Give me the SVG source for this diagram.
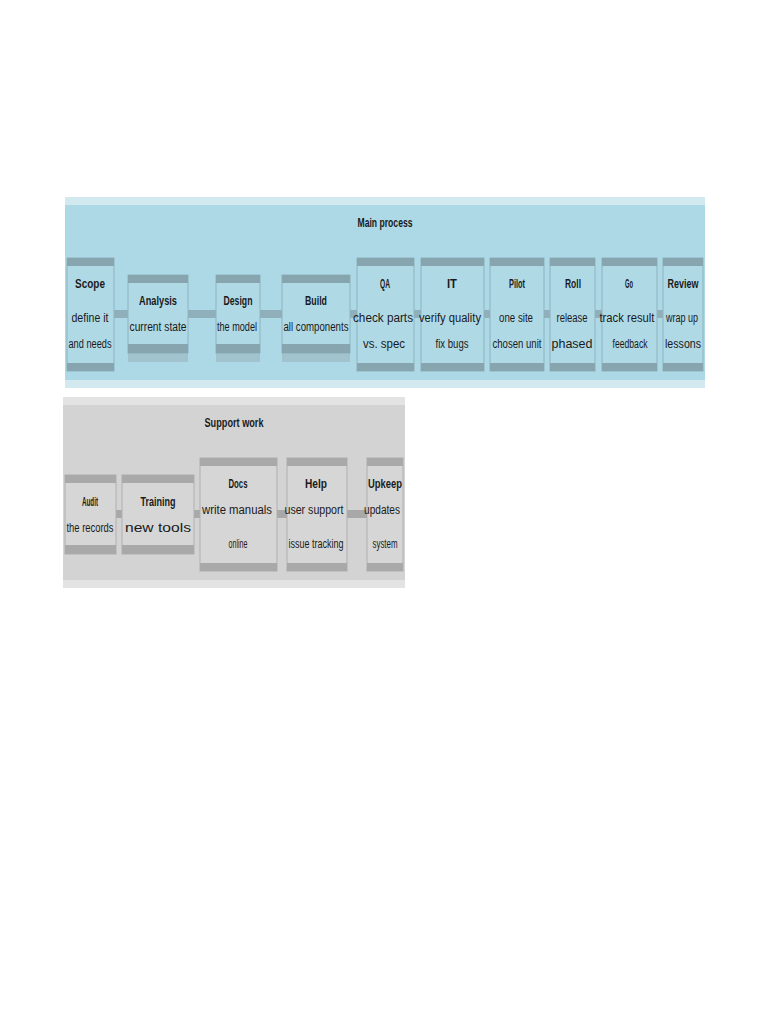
<svg xmlns="http://www.w3.org/2000/svg" width="768" height="1024" viewBox="0 0 768 1024">
<style>
.t{font-family:"Liberation Sans",Arial,sans-serif;font-size:13px;font-weight:bold;fill:#1a1a1a;text-anchor:middle}
.d{font-family:"Liberation Sans",Arial,sans-serif;font-size:12px;fill:#1a1a1a;text-anchor:middle}
.bn{fill:#b0d9e6;stroke:#8fb2bd;stroke-width:1}
.bh{fill:#87a5af}
.bf2{fill:#a1c3ce}
.gn{fill:#d6d6d6;stroke:#b0b0b0;stroke-width:1}
.gh{fill:#a9a9a9}
</style>
<rect width="768" height="1024" fill="#ffffff"/>
<g id="group-blue">
<rect x="65" y="197" width="640" height="191" fill="#d2e9f0"/>
<rect x="65" y="205" width="640" height="175" fill="#add8e6"/>
<text class="t" x="385" y="227" textLength="55" lengthAdjust="spacingAndGlyphs">Main process</text>
</g>
<g id="group-gray">
<rect x="63" y="397" width="342" height="191" fill="#e3e3e3"/>
<rect x="63" y="405" width="342" height="175" fill="#d3d3d3"/>
<text class="t" x="234" y="427" textLength="59" lengthAdjust="spacingAndGlyphs">Support work</text>
</g>
<g id="connectors">
<rect x="114" y="310" width="549" height="8" fill="#8fb0bb"/>
<rect x="116" y="510" width="251" height="8" fill="#a8a8a8"/>
</g>
<g id="n1"><rect class="bn" x="67" y="258" width="47" height="113"/><rect class="bh" x="67" y="258" width="47" height="8"/><rect class="bh" x="67" y="363" width="47" height="8"/>
<text class="t" x="90" y="288" textLength="30" lengthAdjust="spacingAndGlyphs">Scope</text>
<text class="d" x="90" y="322" textLength="37" lengthAdjust="spacingAndGlyphs">define it</text>
<text class="d" x="90" y="348" textLength="43" lengthAdjust="spacingAndGlyphs">and needs</text></g>
<g id="n2"><rect class="bf2" x="128" y="353" width="60" height="9"/><rect class="bn" x="128" y="275" width="60" height="78"/><rect class="bh" x="128" y="275" width="60" height="8"/><rect class="bh" x="128" y="344" width="60" height="9"/>
<text class="t" x="158" y="305" textLength="38" lengthAdjust="spacingAndGlyphs">Analysis</text>
<text class="d" x="158" y="331" textLength="57" lengthAdjust="spacingAndGlyphs">current state</text></g>
<g id="n3"><rect class="bf2" x="216" y="353" width="44" height="9"/><rect class="bn" x="216" y="275" width="44" height="78"/><rect class="bh" x="216" y="275" width="44" height="8"/><rect class="bh" x="216" y="344" width="44" height="9"/>
<text class="t" x="238" y="305" textLength="29" lengthAdjust="spacingAndGlyphs">Design</text>
<text class="d" x="237" y="331" textLength="40" lengthAdjust="spacingAndGlyphs">the model</text></g>
<g id="n4"><rect class="bf2" x="282" y="353" width="68" height="9"/><rect class="bn" x="282" y="275" width="68" height="78"/><rect class="bh" x="282" y="275" width="68" height="8"/><rect class="bh" x="282" y="344" width="68" height="9"/>
<text class="t" x="316" y="305" textLength="22" lengthAdjust="spacingAndGlyphs">Build</text>
<text class="d" x="316" y="331" textLength="65" lengthAdjust="spacingAndGlyphs">all components</text></g>
<g id="n5"><rect class="bn" x="357" y="258" width="57" height="113"/><rect class="bh" x="357" y="258" width="57" height="8"/><rect class="bh" x="357" y="363" width="57" height="8"/>
<text class="t" x="385" y="288" textLength="10" lengthAdjust="spacingAndGlyphs">QA</text>
<text class="d" x="383" y="322" textLength="60" lengthAdjust="spacingAndGlyphs">check parts</text>
<text class="d" x="384" y="348" textLength="42" lengthAdjust="spacingAndGlyphs">vs. spec</text></g>
<g id="n6"><rect class="bn" x="421" y="258" width="63" height="113"/><rect class="bh" x="421" y="258" width="63" height="8"/><rect class="bh" x="421" y="363" width="63" height="8"/>
<text class="t" x="452" y="288" textLength="10" lengthAdjust="spacingAndGlyphs">IT</text>
<text class="d" x="450" y="322" textLength="62" lengthAdjust="spacingAndGlyphs">verify quality</text>
<text class="d" x="452" y="348" textLength="33" lengthAdjust="spacingAndGlyphs">fix bugs</text></g>
<g id="n7"><rect class="bn" x="490" y="258" width="54" height="113"/><rect class="bh" x="490" y="258" width="54" height="8"/><rect class="bh" x="490" y="363" width="54" height="8"/>
<text class="t" x="517" y="288" textLength="16" lengthAdjust="spacingAndGlyphs">Pilot</text>
<text class="d" x="516" y="322" textLength="34" lengthAdjust="spacingAndGlyphs">one site</text>
<text class="d" x="517" y="348" textLength="49" lengthAdjust="spacingAndGlyphs">chosen unit</text></g>
<g id="n8"><rect class="bn" x="550" y="258" width="45" height="113"/><rect class="bh" x="550" y="258" width="45" height="8"/><rect class="bh" x="550" y="363" width="45" height="8"/>
<text class="t" x="573" y="288" textLength="16" lengthAdjust="spacingAndGlyphs">Roll</text>
<text class="d" x="572" y="322" textLength="31" lengthAdjust="spacingAndGlyphs">release</text>
<text class="d" x="572" y="348" textLength="41" lengthAdjust="spacingAndGlyphs">phased</text></g>
<g id="n9"><rect class="bn" x="602" y="258" width="55" height="113"/><rect class="bh" x="602" y="258" width="55" height="8"/><rect class="bh" x="602" y="363" width="55" height="8"/>
<text class="t" x="629" y="288" textLength="8" lengthAdjust="spacingAndGlyphs">Go</text>
<text class="d" x="627" y="322" textLength="55" lengthAdjust="spacingAndGlyphs">track result</text>
<text class="d" x="630" y="348" textLength="35" lengthAdjust="spacingAndGlyphs">feedback</text></g>
<g id="n10"><rect class="bn" x="663" y="258" width="40" height="113"/><rect class="bh" x="663" y="258" width="40" height="8"/><rect class="bh" x="663" y="363" width="40" height="8"/>
<text class="t" x="683" y="288" textLength="31" lengthAdjust="spacingAndGlyphs">Review</text>
<text class="d" x="682" y="322" textLength="32" lengthAdjust="spacingAndGlyphs">wrap up</text>
<text class="d" x="683" y="348" textLength="36" lengthAdjust="spacingAndGlyphs">lessons</text></g>
<g id="g1"><rect class="gn" x="65" y="475" width="51" height="79"/><rect class="gh" x="65" y="475" width="51" height="8"/><rect class="gh" x="65" y="545" width="51" height="9"/>
<text class="t" x="90" y="506" textLength="16" lengthAdjust="spacingAndGlyphs">Audit</text>
<text class="d" x="90" y="532" textLength="47" lengthAdjust="spacingAndGlyphs">the records</text></g>
<g id="g2"><rect class="gn" x="122" y="475" width="72" height="79"/><rect class="gh" x="122" y="475" width="72" height="8"/><rect class="gh" x="122" y="545" width="72" height="9"/>
<text class="t" x="158" y="506" textLength="35" lengthAdjust="spacingAndGlyphs">Training</text>
<text class="d" x="158" y="532" textLength="66" lengthAdjust="spacingAndGlyphs">new tools</text></g>
<g id="g3"><rect class="gn" x="200" y="458" width="77" height="113"/><rect class="gh" x="200" y="458" width="77" height="8"/><rect class="gh" x="200" y="563" width="77" height="8"/>
<text class="t" x="238" y="488" textLength="19" lengthAdjust="spacingAndGlyphs">Docs</text>
<text class="d" x="237" y="514" textLength="70" lengthAdjust="spacingAndGlyphs">write manuals</text>
<text class="d" x="238" y="548" textLength="19" lengthAdjust="spacingAndGlyphs">online</text></g>
<g id="g4"><rect class="gn" x="287" y="458" width="60" height="113"/><rect class="gh" x="287" y="458" width="60" height="8"/><rect class="gh" x="287" y="563" width="60" height="8"/>
<text class="t" x="316" y="488" textLength="22" lengthAdjust="spacingAndGlyphs">Help</text>
<text class="d" x="314" y="514" textLength="59" lengthAdjust="spacingAndGlyphs">user support</text>
<text class="d" x="316" y="548" textLength="55" lengthAdjust="spacingAndGlyphs">issue tracking</text></g>
<g id="g5"><rect class="gn" x="367" y="458" width="36" height="113"/><rect class="gh" x="367" y="458" width="36" height="8"/><rect class="gh" x="367" y="563" width="36" height="8"/>
<text class="t" x="385" y="488" textLength="34" lengthAdjust="spacingAndGlyphs">Upkeep</text>
<text class="d" x="382" y="514" textLength="36" lengthAdjust="spacingAndGlyphs">updates</text>
<text class="d" x="385" y="548" textLength="25" lengthAdjust="spacingAndGlyphs">system</text></g>
</svg>
